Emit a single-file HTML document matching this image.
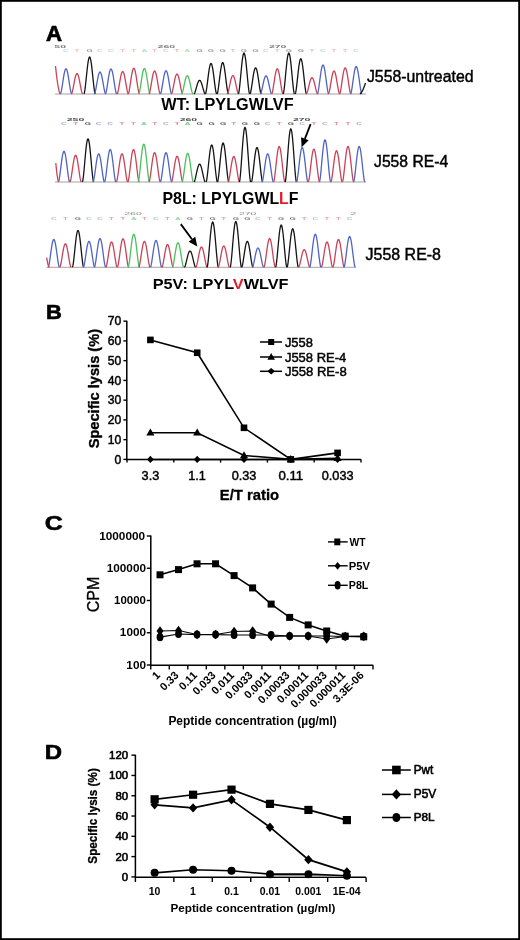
<!DOCTYPE html>
<html><head><meta charset="utf-8"><title>Figure</title>
<style>
html,body{margin:0;padding:0;background:#fff;}
body{width:520px;height:940px;overflow:hidden;}
svg{display:block;font-family:'Liberation Sans', Arial, Helvetica, sans-serif;}
</style></head><body>
<svg width="520" height="940" viewBox="0 0 520 940">
<rect x="0" y="0" width="520" height="940" fill="#fff"/>
<rect x="0.9" y="0.9" width="518.2" height="938.2" fill="none" stroke="#000" stroke-width="1.8"/>
<line x1="55" y1="94" x2="366" y2="94" stroke="#8a8a8a" stroke-width="0.8"/>
<path d="M60.40,94.00 L60.87,93.03 L61.33,91.10 L61.80,88.58 L62.27,85.69 L62.73,82.61 L63.20,79.53 L63.67,76.60 L64.13,73.98 L64.60,71.80 L65.07,70.16 L65.53,69.14 L66.00,68.80 L66.47,69.14 L66.93,70.16 L67.40,71.80 L67.87,73.98 L68.33,76.60 L68.80,79.53 L69.27,82.61 L69.73,85.69 L70.20,88.58 L70.67,91.10 L71.13,93.03 L71.60,94.00" fill="none" stroke="#5064c4" stroke-width="1.3" stroke-linejoin="round"/>
<path d="M71.40,94.00 L71.87,93.22 L72.33,91.65 L72.80,89.61 L73.27,87.27 L73.73,84.78 L74.20,82.28 L74.67,79.91 L75.13,77.79 L75.60,76.03 L76.07,74.70 L76.53,73.88 L77.00,73.60 L77.47,73.88 L77.93,74.70 L78.40,76.03 L78.87,77.79 L79.33,79.91 L79.80,82.28 L80.27,84.78 L80.73,87.27 L81.20,89.61 L81.67,91.65 L82.13,93.22 L82.60,94.00" fill="none" stroke="#cc4258" stroke-width="1.3" stroke-linejoin="round"/>
<path d="M84.00,94.00 L84.47,92.58 L84.93,89.74 L85.40,86.04 L85.87,81.79 L86.33,77.28 L86.80,72.75 L87.27,68.45 L87.73,64.61 L88.20,61.40 L88.67,59.00 L89.13,57.51 L89.60,57.00 L90.07,57.51 L90.53,59.00 L91.00,61.40 L91.47,64.61 L91.93,68.45 L92.40,72.75 L92.87,77.28 L93.33,81.79 L93.80,86.04 L94.27,89.74 L94.73,92.58 L95.20,94.00" fill="none" stroke="#151515" stroke-width="1.3" stroke-linejoin="round"/>
<path d="M94.40,94.00 L94.87,93.15 L95.33,91.47 L95.80,89.27 L96.27,86.74 L96.73,84.06 L97.20,81.36 L97.67,78.81 L98.13,76.52 L98.60,74.62 L99.07,73.19 L99.53,72.30 L100.00,72.00 L100.47,72.30 L100.93,73.19 L101.40,74.62 L101.87,76.52 L102.33,78.81 L102.80,81.36 L103.27,84.06 L103.73,86.74 L104.20,89.27 L104.67,91.47 L105.13,93.15 L105.60,94.00" fill="none" stroke="#5064c4" stroke-width="1.3" stroke-linejoin="round"/>
<path d="M105.40,94.00 L105.87,93.04 L106.33,91.12 L106.80,88.62 L107.27,85.75 L107.73,82.70 L108.20,79.64 L108.67,76.74 L109.13,74.14 L109.60,71.97 L110.07,70.35 L110.53,69.34 L111.00,69.00 L111.47,69.34 L111.93,70.35 L112.40,71.97 L112.87,74.14 L113.33,76.74 L113.80,79.64 L114.27,82.70 L114.73,85.75 L115.20,88.62 L115.67,91.12 L116.13,93.04 L116.60,94.00" fill="none" stroke="#5064c4" stroke-width="1.3" stroke-linejoin="round"/>
<path d="M117.10,94.00 L117.57,93.14 L118.03,91.42 L118.50,89.18 L118.97,86.61 L119.43,83.88 L119.90,81.13 L120.37,78.53 L120.83,76.21 L121.30,74.27 L121.77,72.81 L122.23,71.91 L122.70,71.60 L123.17,71.91 L123.63,72.81 L124.10,74.27 L124.57,76.21 L125.03,78.53 L125.50,81.13 L125.97,83.88 L126.43,86.61 L126.90,89.18 L127.37,91.42 L127.83,93.14 L128.30,94.00" fill="none" stroke="#cc4258" stroke-width="1.3" stroke-linejoin="round"/>
<path d="M128.20,94.00 L128.67,93.01 L129.13,91.03 L129.60,88.45 L130.07,85.49 L130.53,82.34 L131.00,79.18 L131.47,76.19 L131.93,73.50 L132.40,71.27 L132.87,69.59 L133.33,68.55 L133.80,68.20 L134.27,68.55 L134.73,69.59 L135.20,71.27 L135.67,73.50 L136.13,76.19 L136.60,79.18 L137.07,82.34 L137.53,85.49 L138.00,88.45 L138.47,91.03 L138.93,93.01 L139.40,94.00" fill="none" stroke="#cc4258" stroke-width="1.3" stroke-linejoin="round"/>
<path d="M138.80,94.00 L139.27,93.02 L139.73,91.06 L140.20,88.49 L140.67,85.56 L141.13,82.43 L141.60,79.30 L142.07,76.32 L142.53,73.66 L143.00,71.45 L143.47,69.78 L143.93,68.75 L144.40,68.40 L144.87,68.75 L145.33,69.78 L145.80,71.45 L146.27,73.66 L146.73,76.32 L147.20,79.30 L147.67,82.43 L148.13,85.56 L148.60,88.49 L149.07,91.06 L149.53,93.02 L150.00,94.00" fill="none" stroke="#4cc05c" stroke-width="1.3" stroke-linejoin="round"/>
<path d="M149.00,94.00 L149.47,93.12 L149.93,91.35 L150.40,89.05 L150.87,86.41 L151.33,83.60 L151.80,80.79 L152.27,78.12 L152.73,75.73 L153.20,73.74 L153.67,72.24 L154.13,71.31 L154.60,71.00 L155.07,71.31 L155.53,72.24 L156.00,73.74 L156.47,75.73 L156.93,78.12 L157.40,80.79 L157.87,83.60 L158.33,86.41 L158.80,89.05 L159.27,91.35 L159.73,93.12 L160.20,94.00" fill="none" stroke="#cc4258" stroke-width="1.3" stroke-linejoin="round"/>
<path d="M160.40,94.00 L160.87,93.10 L161.33,91.32 L161.80,88.99 L162.27,86.31 L162.73,83.47 L163.20,80.62 L163.67,77.91 L164.13,75.49 L164.60,73.47 L165.07,71.96 L165.53,71.02 L166.00,70.70 L166.47,71.02 L166.93,71.96 L167.40,73.47 L167.87,75.49 L168.33,77.91 L168.80,80.62 L169.27,83.47 L169.73,86.31 L170.20,88.99 L170.67,91.32 L171.13,93.10 L171.60,94.00" fill="none" stroke="#5064c4" stroke-width="1.3" stroke-linejoin="round"/>
<path d="M171.40,94.00 L171.87,93.23 L172.33,91.70 L172.80,89.70 L173.27,87.40 L173.73,84.96 L174.20,82.51 L174.67,80.19 L175.13,78.11 L175.60,76.38 L176.07,75.08 L176.53,74.27 L177.00,74.00 L177.47,74.27 L177.93,75.08 L178.40,76.38 L178.87,78.11 L179.33,80.19 L179.80,82.51 L180.27,84.96 L180.73,87.40 L181.20,89.70 L181.67,91.70 L182.13,93.23 L182.60,94.00" fill="none" stroke="#cc4258" stroke-width="1.3" stroke-linejoin="round"/>
<path d="M181.70,94.00 L182.17,93.30 L182.63,91.90 L183.10,90.06 L183.57,87.96 L184.03,85.73 L184.50,83.49 L184.97,81.36 L185.43,79.46 L185.90,77.88 L186.37,76.69 L186.83,75.95 L187.30,75.70 L187.77,75.95 L188.23,76.69 L188.70,77.88 L189.17,79.46 L189.63,81.36 L190.10,83.49 L190.57,85.73 L191.03,87.96 L191.50,90.06 L191.97,91.90 L192.43,93.30 L192.90,94.00" fill="none" stroke="#4cc05c" stroke-width="1.3" stroke-linejoin="round"/>
<path d="M194.00,94.00 L194.47,93.47 L194.93,92.42 L195.40,91.05 L195.87,89.48 L196.33,87.81 L196.80,86.13 L197.27,84.54 L197.73,83.12 L198.20,81.93 L198.67,81.04 L199.13,80.49 L199.60,80.30 L200.07,80.49 L200.53,81.04 L201.00,81.93 L201.47,83.12 L201.93,84.54 L202.40,86.13 L202.87,87.81 L203.33,89.48 L203.80,91.05 L204.27,92.42 L204.73,93.47 L205.20,94.00" fill="none" stroke="#151515" stroke-width="1.3" stroke-linejoin="round"/>
<path d="M205.40,94.00 L205.87,92.82 L206.33,90.48 L206.80,87.42 L207.27,83.91 L207.73,80.17 L208.20,76.42 L208.67,72.87 L209.13,69.69 L209.60,67.04 L210.07,65.05 L210.53,63.82 L211.00,63.40 L211.47,63.82 L211.93,65.05 L212.40,67.04 L212.87,69.69 L213.33,72.87 L213.80,76.42 L214.27,80.17 L214.73,83.91 L215.20,87.42 L215.67,90.48 L216.13,92.82 L216.60,94.00" fill="none" stroke="#151515" stroke-width="1.3" stroke-linejoin="round"/>
<path d="M217.10,94.00 L217.57,92.79 L218.03,90.39 L218.50,87.25 L218.97,83.64 L219.43,79.81 L219.90,75.97 L220.37,72.32 L220.83,69.06 L221.30,66.34 L221.77,64.29 L222.23,63.03 L222.70,62.60 L223.17,63.03 L223.63,64.29 L224.10,66.34 L224.57,69.06 L225.03,72.32 L225.50,75.97 L225.97,79.81 L226.43,83.64 L226.90,87.25 L227.37,90.39 L227.83,92.79 L228.30,94.00" fill="none" stroke="#151515" stroke-width="1.3" stroke-linejoin="round"/>
<path d="M227.30,94.00 L227.77,93.29 L228.23,91.87 L228.70,90.02 L229.17,87.90 L229.63,85.64 L230.10,83.37 L230.57,81.23 L231.03,79.30 L231.50,77.70 L231.97,76.50 L232.43,75.75 L232.90,75.50 L233.37,75.75 L233.83,76.50 L234.30,77.70 L234.77,79.30 L235.23,81.23 L235.70,83.37 L236.17,85.64 L236.63,87.90 L237.10,90.02 L237.57,91.87 L238.03,93.29 L238.50,94.00" fill="none" stroke="#cc4258" stroke-width="1.3" stroke-linejoin="round"/>
<path d="M238.40,94.00 L238.87,92.42 L239.33,89.28 L239.80,85.18 L240.27,80.48 L240.73,75.47 L241.20,70.45 L241.67,65.69 L242.13,61.43 L242.60,57.88 L243.07,55.21 L243.53,53.56 L244.00,53.00 L244.47,53.56 L244.93,55.21 L245.40,57.88 L245.87,61.43 L246.33,65.69 L246.80,70.45 L247.27,75.47 L247.73,80.48 L248.20,85.18 L248.67,89.28 L249.13,92.42 L249.60,94.00" fill="none" stroke="#151515" stroke-width="1.3" stroke-linejoin="round"/>
<path d="M250.00,94.00 L250.47,92.99 L250.93,90.99 L251.40,88.37 L251.87,85.36 L252.33,82.16 L252.80,78.95 L253.27,75.91 L253.73,73.19 L254.20,70.92 L254.67,69.21 L255.13,68.16 L255.60,67.80 L256.07,68.16 L256.53,69.21 L257.00,70.92 L257.47,73.19 L257.93,75.91 L258.40,78.95 L258.87,82.16 L259.33,85.36 L259.80,88.37 L260.27,90.99 L260.73,92.99 L261.20,94.00" fill="none" stroke="#151515" stroke-width="1.3" stroke-linejoin="round"/>
<path d="M260.40,94.00 L260.87,93.30 L261.33,91.92 L261.80,90.11 L262.27,88.03 L262.73,85.82 L263.20,83.60 L263.67,81.50 L264.13,79.62 L264.60,78.05 L265.07,76.88 L265.53,76.15 L266.00,75.90 L266.47,76.15 L266.93,76.88 L267.40,78.05 L267.87,79.62 L268.33,81.50 L268.80,83.60 L269.27,85.82 L269.73,88.03 L270.20,90.11 L270.67,91.92 L271.13,93.30 L271.60,94.00" fill="none" stroke="#5064c4" stroke-width="1.3" stroke-linejoin="round"/>
<path d="M271.70,94.00 L272.17,93.03 L272.63,91.10 L273.10,88.58 L273.57,85.69 L274.03,82.61 L274.50,79.53 L274.97,76.60 L275.43,73.98 L275.90,71.80 L276.37,70.16 L276.83,69.14 L277.30,68.80 L277.77,69.14 L278.23,70.16 L278.70,71.80 L279.17,73.98 L279.63,76.60 L280.10,79.53 L280.57,82.61 L281.03,85.69 L281.50,88.58 L281.97,91.10 L282.43,93.03 L282.90,94.00" fill="none" stroke="#cc4258" stroke-width="1.3" stroke-linejoin="round"/>
<path d="M283.20,94.00 L283.67,92.42 L284.13,89.28 L284.60,85.18 L285.07,80.48 L285.53,75.47 L286.00,70.45 L286.47,65.69 L286.93,61.43 L287.40,57.88 L287.87,55.21 L288.33,53.56 L288.80,53.00 L289.27,53.56 L289.73,55.21 L290.20,57.88 L290.67,61.43 L291.13,65.69 L291.60,70.45 L292.07,75.47 L292.53,80.48 L293.00,85.18 L293.47,89.28 L293.93,92.42 L294.40,94.00" fill="none" stroke="#151515" stroke-width="1.3" stroke-linejoin="round"/>
<path d="M295.20,94.00 L295.67,92.65 L296.13,89.95 L296.60,86.43 L297.07,82.39 L297.53,78.09 L298.00,73.78 L298.47,69.70 L298.93,66.04 L299.40,62.99 L299.87,60.70 L300.33,59.28 L300.80,58.80 L301.27,59.28 L301.73,60.70 L302.20,62.99 L302.67,66.04 L303.13,69.70 L303.60,73.78 L304.07,78.09 L304.53,82.39 L305.00,86.43 L305.47,89.95 L305.93,92.65 L306.40,94.00" fill="none" stroke="#151515" stroke-width="1.3" stroke-linejoin="round"/>
<path d="M306.40,94.00 L306.87,93.37 L307.33,92.13 L307.80,90.49 L308.27,88.62 L308.73,86.63 L309.20,84.64 L309.67,82.75 L310.13,81.05 L310.60,79.64 L311.07,78.58 L311.53,77.92 L312.00,77.70 L312.47,77.92 L312.93,78.58 L313.40,79.64 L313.87,81.05 L314.33,82.75 L314.80,84.64 L315.27,86.63 L315.73,88.62 L316.20,90.49 L316.67,92.13 L317.13,93.37 L317.60,94.00" fill="none" stroke="#cc4258" stroke-width="1.3" stroke-linejoin="round"/>
<path d="M317.40,94.00 L317.87,92.88 L318.33,90.66 L318.80,87.76 L319.27,84.43 L319.73,80.89 L320.20,77.34 L320.67,73.98 L321.13,70.96 L321.60,68.45 L322.07,66.56 L322.53,65.40 L323.00,65.00 L323.47,65.40 L323.93,66.56 L324.40,68.45 L324.87,70.96 L325.33,73.98 L325.80,77.34 L326.27,80.89 L326.73,84.43 L327.20,87.76 L327.67,90.66 L328.13,92.88 L328.60,94.00" fill="none" stroke="#5064c4" stroke-width="1.3" stroke-linejoin="round"/>
<path d="M328.40,94.00 L328.87,93.12 L329.33,91.35 L329.80,89.05 L330.27,86.41 L330.73,83.60 L331.20,80.79 L331.67,78.12 L332.13,75.73 L332.60,73.74 L333.07,72.24 L333.53,71.31 L334.00,71.00 L334.47,71.31 L334.93,72.24 L335.40,73.74 L335.87,75.73 L336.33,78.12 L336.80,80.79 L337.27,83.60 L337.73,86.41 L338.20,89.05 L338.67,91.35 L339.13,93.12 L339.60,94.00" fill="none" stroke="#cc4258" stroke-width="1.3" stroke-linejoin="round"/>
<path d="M339.60,94.00 L340.07,92.99 L340.53,90.99 L341.00,88.37 L341.47,85.36 L341.93,82.16 L342.40,78.95 L342.87,75.91 L343.33,73.19 L343.80,70.92 L344.27,69.21 L344.73,68.16 L345.20,67.80 L345.67,68.16 L346.13,69.21 L346.60,70.92 L347.07,73.19 L347.53,75.91 L348.00,78.95 L348.47,82.16 L348.93,85.36 L349.40,88.37 L349.87,90.99 L350.33,92.99 L350.80,94.00" fill="none" stroke="#cc4258" stroke-width="1.3" stroke-linejoin="round"/>
<path d="M350.60,94.00 L351.07,92.94 L351.53,90.84 L352.00,88.09 L352.47,84.93 L352.93,81.57 L353.40,78.21 L353.87,75.01 L354.33,72.15 L354.80,69.77 L355.27,67.98 L355.73,66.88 L356.20,66.50 L356.67,66.88 L357.13,67.98 L357.60,69.77 L358.07,72.15 L358.53,75.01 L359.00,78.21 L359.47,81.57 L359.93,84.93 L360.40,88.09 L360.87,90.84 L361.33,92.94 L361.80,94.00" fill="none" stroke="#5064c4" stroke-width="1.3" stroke-linejoin="round"/>
<path d="M55.50,66.00 Q57.75,88.40 60.00,94" fill="none" stroke="#cc4258" stroke-width="1.3"/>
<path d="M360.00,94 Q362.75,91.80 365.50,83.00" fill="none" stroke="#151515" stroke-width="1.3"/>
<text transform="translate(66.00 52.00) scale(1.75 0.72)" font-size="4.6" text-anchor="middle" fill="#98a4dc" font-weight="bold" opacity="0.6">C</text>
<text transform="translate(77.00 52.00) scale(1.75 0.72)" font-size="4.6" text-anchor="middle" fill="#e48a9a" font-weight="bold" opacity="0.6">T</text>
<text transform="translate(89.60 52.00) scale(1.75 0.72)" font-size="4.6" text-anchor="middle" fill="#555555" font-weight="bold" opacity="0.6">G</text>
<text transform="translate(100.00 52.00) scale(1.75 0.72)" font-size="4.6" text-anchor="middle" fill="#98a4dc" font-weight="bold" opacity="0.6">C</text>
<text transform="translate(111.00 52.00) scale(1.75 0.72)" font-size="4.6" text-anchor="middle" fill="#98a4dc" font-weight="bold" opacity="0.6">C</text>
<text transform="translate(122.70 52.00) scale(1.75 0.72)" font-size="4.6" text-anchor="middle" fill="#e48a9a" font-weight="bold" opacity="0.6">T</text>
<text transform="translate(133.80 52.00) scale(1.75 0.72)" font-size="4.6" text-anchor="middle" fill="#e48a9a" font-weight="bold" opacity="0.6">T</text>
<text transform="translate(144.40 52.00) scale(1.75 0.72)" font-size="4.6" text-anchor="middle" fill="#7fd08c" font-weight="bold" opacity="0.6">A</text>
<text transform="translate(154.60 52.00) scale(1.75 0.72)" font-size="4.6" text-anchor="middle" fill="#e48a9a" font-weight="bold" opacity="0.6">T</text>
<text transform="translate(166.00 52.00) scale(1.75 0.72)" font-size="4.6" text-anchor="middle" fill="#98a4dc" font-weight="bold" opacity="0.6">C</text>
<text transform="translate(177.00 52.00) scale(1.75 0.72)" font-size="4.6" text-anchor="middle" fill="#e48a9a" font-weight="bold" opacity="0.6">T</text>
<text transform="translate(187.30 52.00) scale(1.75 0.72)" font-size="4.6" text-anchor="middle" fill="#7fd08c" font-weight="bold" opacity="0.6">A</text>
<text transform="translate(199.60 52.00) scale(1.75 0.72)" font-size="4.6" text-anchor="middle" fill="#555555" font-weight="bold" opacity="0.6">G</text>
<text transform="translate(211.00 52.00) scale(1.75 0.72)" font-size="4.6" text-anchor="middle" fill="#555555" font-weight="bold" opacity="0.6">G</text>
<text transform="translate(222.70 52.00) scale(1.75 0.72)" font-size="4.6" text-anchor="middle" fill="#555555" font-weight="bold" opacity="0.6">G</text>
<text transform="translate(232.90 52.00) scale(1.75 0.72)" font-size="4.6" text-anchor="middle" fill="#e48a9a" font-weight="bold" opacity="0.6">T</text>
<text transform="translate(244.00 52.00) scale(1.75 0.72)" font-size="4.6" text-anchor="middle" fill="#555555" font-weight="bold" opacity="0.6">G</text>
<text transform="translate(255.60 52.00) scale(1.75 0.72)" font-size="4.6" text-anchor="middle" fill="#555555" font-weight="bold" opacity="0.6">G</text>
<text transform="translate(266.00 52.00) scale(1.75 0.72)" font-size="4.6" text-anchor="middle" fill="#98a4dc" font-weight="bold" opacity="0.6">C</text>
<text transform="translate(277.30 52.00) scale(1.75 0.72)" font-size="4.6" text-anchor="middle" fill="#e48a9a" font-weight="bold" opacity="0.6">T</text>
<text transform="translate(288.80 52.00) scale(1.75 0.72)" font-size="4.6" text-anchor="middle" fill="#555555" font-weight="bold" opacity="0.6">G</text>
<text transform="translate(300.80 52.00) scale(1.75 0.72)" font-size="4.6" text-anchor="middle" fill="#555555" font-weight="bold" opacity="0.6">G</text>
<text transform="translate(312.00 52.00) scale(1.75 0.72)" font-size="4.6" text-anchor="middle" fill="#e48a9a" font-weight="bold" opacity="0.6">T</text>
<text transform="translate(323.00 52.00) scale(1.75 0.72)" font-size="4.6" text-anchor="middle" fill="#98a4dc" font-weight="bold" opacity="0.6">C</text>
<text transform="translate(334.00 52.00) scale(1.75 0.72)" font-size="4.6" text-anchor="middle" fill="#e48a9a" font-weight="bold" opacity="0.6">T</text>
<text transform="translate(345.20 52.00) scale(1.75 0.72)" font-size="4.6" text-anchor="middle" fill="#e48a9a" font-weight="bold" opacity="0.6">T</text>
<text transform="translate(356.20 52.00) scale(1.75 0.72)" font-size="4.6" text-anchor="middle" fill="#98a4dc" font-weight="bold" opacity="0.6">C</text>
<text transform="translate(60.20 47.90) scale(2.5 0.75)" font-size="4.2" text-anchor="middle" fill="#777" font-weight="bold">50</text>
<text transform="translate(166.30 47.90) scale(2.5 0.75)" font-size="4.2" text-anchor="middle" fill="#777" font-weight="bold">260</text>
<text transform="translate(277.70 47.90) scale(2.5 0.75)" font-size="4.2" text-anchor="middle" fill="#777" font-weight="bold">270</text>
<line x1="55" y1="182" x2="366" y2="182" stroke="#8a8a8a" stroke-width="0.8"/>
<path d="M58.40,182.00 L58.87,180.82 L59.33,178.47 L59.80,175.40 L60.27,171.87 L60.73,168.12 L61.20,164.37 L61.67,160.80 L62.13,157.61 L62.60,154.95 L63.07,152.96 L63.53,151.72 L64.00,151.30 L64.47,151.72 L64.93,152.96 L65.40,154.95 L65.87,157.61 L66.33,160.80 L66.80,164.37 L67.27,168.12 L67.73,171.87 L68.20,175.40 L68.67,178.47 L69.13,180.82 L69.60,182.00" fill="none" stroke="#5064c4" stroke-width="1.3" stroke-linejoin="round"/>
<path d="M70.00,182.00 L70.47,180.97 L70.93,178.92 L71.40,176.24 L71.87,173.16 L72.33,169.89 L72.80,166.61 L73.27,163.50 L73.73,160.71 L74.20,158.39 L74.67,156.65 L75.13,155.57 L75.60,155.20 L76.07,155.57 L76.53,156.65 L77.00,158.39 L77.47,160.71 L77.93,163.50 L78.40,166.61 L78.87,169.89 L79.33,173.16 L79.80,176.24 L80.27,178.92 L80.73,180.97 L81.20,182.00" fill="none" stroke="#cc4258" stroke-width="1.3" stroke-linejoin="round"/>
<path d="M82.40,182.00 L82.87,180.34 L83.33,177.03 L83.80,172.71 L84.27,167.75 L84.73,162.47 L85.20,157.19 L85.67,152.17 L86.13,147.68 L86.60,143.94 L87.07,141.13 L87.53,139.39 L88.00,138.80 L88.47,139.39 L88.93,141.13 L89.40,143.94 L89.87,147.68 L90.33,152.17 L90.80,157.19 L91.27,162.47 L91.73,167.75 L92.20,172.71 L92.67,177.03 L93.13,180.34 L93.60,182.00" fill="none" stroke="#151515" stroke-width="1.3" stroke-linejoin="round"/>
<path d="M93.10,182.00 L93.57,180.92 L94.03,178.76 L94.50,175.94 L94.97,172.70 L95.43,169.25 L95.90,165.80 L96.37,162.53 L96.83,159.60 L97.30,157.16 L97.77,155.32 L98.23,154.19 L98.70,153.80 L99.17,154.19 L99.63,155.32 L100.10,157.16 L100.57,159.60 L101.03,162.53 L101.50,165.80 L101.97,169.25 L102.43,172.70 L102.90,175.94 L103.37,178.76 L103.83,180.92 L104.30,182.00" fill="none" stroke="#5064c4" stroke-width="1.3" stroke-linejoin="round"/>
<path d="M104.60,182.00 L105.07,180.75 L105.53,178.25 L106.00,174.99 L106.47,171.25 L106.93,167.27 L107.40,163.28 L107.87,159.49 L108.33,156.10 L108.80,153.28 L109.27,151.16 L109.73,149.85 L110.20,149.40 L110.67,149.85 L111.13,151.16 L111.60,153.28 L112.07,156.10 L112.53,159.49 L113.00,163.28 L113.47,167.27 L113.93,171.25 L114.40,174.99 L114.87,178.25 L115.33,180.75 L115.80,182.00" fill="none" stroke="#5064c4" stroke-width="1.3" stroke-linejoin="round"/>
<path d="M116.40,182.00 L116.87,180.92 L117.33,178.76 L117.80,175.94 L118.27,172.70 L118.73,169.25 L119.20,165.80 L119.67,162.53 L120.13,159.60 L120.60,157.16 L121.07,155.32 L121.53,154.19 L122.00,153.80 L122.47,154.19 L122.93,155.32 L123.40,157.16 L123.87,159.60 L124.33,162.53 L124.80,165.80 L125.27,169.25 L125.73,172.70 L126.20,175.94 L126.67,178.76 L127.13,180.92 L127.60,182.00" fill="none" stroke="#cc4258" stroke-width="1.3" stroke-linejoin="round"/>
<path d="M127.90,182.00 L128.37,180.75 L128.83,178.25 L129.30,174.99 L129.77,171.25 L130.23,167.27 L130.70,163.28 L131.17,159.49 L131.63,156.10 L132.10,153.28 L132.57,151.16 L133.03,149.85 L133.50,149.40 L133.97,149.85 L134.43,151.16 L134.90,153.28 L135.37,156.10 L135.83,159.49 L136.30,163.28 L136.77,167.27 L137.23,171.25 L137.70,174.99 L138.17,178.25 L138.63,180.75 L139.10,182.00" fill="none" stroke="#cc4258" stroke-width="1.3" stroke-linejoin="round"/>
<path d="M138.20,182.00 L138.67,180.55 L139.13,177.65 L139.60,173.87 L140.07,169.53 L140.53,164.92 L141.00,160.29 L141.47,155.90 L141.93,151.97 L142.40,148.70 L142.87,146.24 L143.33,144.72 L143.80,144.20 L144.27,144.72 L144.73,146.24 L145.20,148.70 L145.67,151.97 L146.13,155.90 L146.60,160.29 L147.07,164.92 L147.53,169.53 L148.00,173.87 L148.47,177.65 L148.93,180.55 L149.40,182.00" fill="none" stroke="#4cc05c" stroke-width="1.3" stroke-linejoin="round"/>
<path d="M149.00,182.00 L149.47,180.87 L149.93,178.63 L150.40,175.70 L150.87,172.33 L151.33,168.76 L151.80,165.17 L152.27,161.77 L152.73,158.72 L153.20,156.19 L153.67,154.28 L154.13,153.10 L154.60,152.70 L155.07,153.10 L155.53,154.28 L156.00,156.19 L156.47,158.72 L156.93,161.77 L157.40,165.17 L157.87,168.76 L158.33,172.33 L158.80,175.70 L159.27,178.63 L159.73,180.87 L160.20,182.00" fill="none" stroke="#cc4258" stroke-width="1.3" stroke-linejoin="round"/>
<path d="M160.40,182.00 L160.87,180.87 L161.33,178.63 L161.80,175.70 L162.27,172.33 L162.73,168.76 L163.20,165.17 L163.67,161.77 L164.13,158.72 L164.60,156.19 L165.07,154.28 L165.53,153.10 L166.00,152.70 L166.47,153.10 L166.93,154.28 L167.40,156.19 L167.87,158.72 L168.33,161.77 L168.80,165.17 L169.27,168.76 L169.73,172.33 L170.20,175.70 L170.67,178.63 L171.13,180.87 L171.60,182.00" fill="none" stroke="#5064c4" stroke-width="1.3" stroke-linejoin="round"/>
<path d="M171.50,182.00 L171.97,181.01 L172.43,179.03 L172.90,176.45 L173.37,173.49 L173.83,170.34 L174.30,167.18 L174.77,164.19 L175.23,161.50 L175.70,159.27 L176.17,157.59 L176.63,156.55 L177.10,156.20 L177.57,156.55 L178.03,157.59 L178.50,159.27 L178.97,161.50 L179.43,164.19 L179.90,167.18 L180.37,170.34 L180.83,173.49 L181.30,176.45 L181.77,179.03 L182.23,181.01 L182.70,182.00" fill="none" stroke="#cc4258" stroke-width="1.3" stroke-linejoin="round"/>
<path d="M182.10,182.00 L182.57,180.90 L183.03,178.70 L183.50,175.83 L183.97,172.53 L184.43,169.03 L184.90,165.52 L185.37,162.18 L185.83,159.20 L186.30,156.71 L186.77,154.85 L187.23,153.69 L187.70,153.30 L188.17,153.69 L188.63,154.85 L189.10,156.71 L189.57,159.20 L190.03,162.18 L190.50,165.52 L190.97,169.03 L191.43,172.53 L191.90,175.83 L192.37,178.70 L192.83,180.90 L193.30,182.00" fill="none" stroke="#4cc05c" stroke-width="1.3" stroke-linejoin="round"/>
<path d="M194.00,182.00 L194.47,181.32 L194.93,179.95 L195.40,178.17 L195.87,176.13 L196.33,173.95 L196.80,171.78 L197.27,169.71 L197.73,167.86 L198.20,166.32 L198.67,165.16 L199.13,164.44 L199.60,164.20 L200.07,164.44 L200.53,165.16 L201.00,166.32 L201.47,167.86 L201.93,169.71 L202.40,171.78 L202.87,173.95 L203.33,176.13 L203.80,178.17 L204.27,179.95 L204.73,181.32 L205.20,182.00" fill="none" stroke="#151515" stroke-width="1.3" stroke-linejoin="round"/>
<path d="M206.10,182.00 L206.57,180.58 L207.03,177.74 L207.50,174.04 L207.97,169.79 L208.43,165.28 L208.90,160.75 L209.37,156.45 L209.83,152.61 L210.30,149.40 L210.77,147.00 L211.23,145.51 L211.70,145.00 L212.17,145.51 L212.63,147.00 L213.10,149.40 L213.57,152.61 L214.03,156.45 L214.50,160.75 L214.97,165.28 L215.43,169.79 L215.90,174.04 L216.37,177.74 L216.83,180.58 L217.30,182.00" fill="none" stroke="#151515" stroke-width="1.3" stroke-linejoin="round"/>
<path d="M217.50,182.00 L217.97,180.50 L218.43,177.51 L218.90,173.61 L219.37,169.13 L219.83,164.37 L220.30,159.60 L220.77,155.07 L221.23,151.02 L221.70,147.64 L222.17,145.10 L222.63,143.53 L223.10,143.00 L223.57,143.53 L224.03,145.10 L224.50,147.64 L224.97,151.02 L225.43,155.07 L225.90,159.60 L226.37,164.37 L226.83,169.13 L227.30,173.61 L227.77,177.51 L228.23,180.50 L228.70,182.00" fill="none" stroke="#151515" stroke-width="1.3" stroke-linejoin="round"/>
<path d="M228.20,182.00 L228.67,181.02 L229.13,179.07 L229.60,176.52 L230.07,173.59 L230.53,170.47 L231.00,167.35 L231.47,164.39 L231.93,161.74 L232.40,159.53 L232.87,157.88 L233.33,156.85 L233.80,156.50 L234.27,156.85 L234.73,157.88 L235.20,159.53 L235.67,161.74 L236.13,164.39 L236.60,167.35 L237.07,170.47 L237.53,173.59 L238.00,176.52 L238.47,179.07 L238.93,181.02 L239.40,182.00" fill="none" stroke="#cc4258" stroke-width="1.3" stroke-linejoin="round"/>
<path d="M239.40,182.00 L239.87,179.90 L240.33,175.71 L240.80,170.24 L241.27,163.96 L241.73,157.28 L242.20,150.58 L242.67,144.23 L243.13,138.55 L243.60,133.81 L244.07,130.25 L244.53,128.05 L245.00,127.30 L245.47,128.05 L245.93,130.25 L246.40,133.81 L246.87,138.55 L247.33,144.23 L247.80,150.58 L248.27,157.28 L248.73,163.96 L249.20,170.24 L249.67,175.71 L250.13,179.90 L250.60,182.00" fill="none" stroke="#151515" stroke-width="1.3" stroke-linejoin="round"/>
<path d="M251.40,182.00 L251.87,180.67 L252.33,178.03 L252.80,174.58 L253.27,170.62 L253.73,166.41 L254.20,162.18 L254.67,158.18 L255.13,154.59 L255.60,151.60 L256.07,149.36 L256.53,147.97 L257.00,147.50 L257.47,147.97 L257.93,149.36 L258.40,151.60 L258.87,154.59 L259.33,158.18 L259.80,162.18 L260.27,166.41 L260.73,170.62 L261.20,174.58 L261.67,178.03 L262.13,180.67 L262.60,182.00" fill="none" stroke="#151515" stroke-width="1.3" stroke-linejoin="round"/>
<path d="M262.10,182.00 L262.57,180.92 L263.03,178.76 L263.50,175.94 L263.97,172.70 L264.43,169.25 L264.90,165.80 L265.37,162.53 L265.83,159.60 L266.30,157.16 L266.77,155.32 L267.23,154.19 L267.70,153.80 L268.17,154.19 L268.63,155.32 L269.10,157.16 L269.57,159.60 L270.03,162.53 L270.50,165.80 L270.97,169.25 L271.43,172.70 L271.90,175.94 L272.37,178.76 L272.83,180.92 L273.30,182.00" fill="none" stroke="#5064c4" stroke-width="1.3" stroke-linejoin="round"/>
<path d="M273.60,182.00 L274.07,180.63 L274.53,177.92 L275.00,174.37 L275.47,170.29 L275.93,165.95 L276.40,161.61 L276.87,157.49 L277.33,153.80 L277.80,150.72 L278.27,148.42 L278.73,146.98 L279.20,146.50 L279.67,146.98 L280.13,148.42 L280.60,150.72 L281.07,153.80 L281.53,157.49 L282.00,161.61 L282.47,165.95 L282.93,170.29 L283.40,174.37 L283.87,177.92 L284.33,180.63 L284.80,182.00" fill="none" stroke="#cc4258" stroke-width="1.3" stroke-linejoin="round"/>
<path d="M285.20,182.00 L285.67,179.95 L286.13,175.88 L286.60,170.56 L287.07,164.45 L287.53,157.95 L288.00,151.44 L288.47,145.27 L288.93,139.74 L289.40,135.13 L289.87,131.67 L290.33,129.53 L290.80,128.80 L291.27,129.53 L291.73,131.67 L292.20,135.13 L292.67,139.74 L293.13,145.27 L293.60,151.44 L294.07,157.95 L294.53,164.45 L295.00,170.56 L295.47,175.88 L295.93,179.95 L296.40,182.00" fill="none" stroke="#151515" stroke-width="1.3" stroke-linejoin="round"/>
<path d="M296.60,182.00 L297.07,180.67 L297.53,178.03 L298.00,174.58 L298.47,170.62 L298.93,166.41 L299.40,162.18 L299.87,158.18 L300.33,154.59 L300.80,151.60 L301.27,149.36 L301.73,147.97 L302.20,147.50 L302.67,147.97 L303.13,149.36 L303.60,151.60 L304.07,154.59 L304.53,158.18 L305.00,162.18 L305.47,166.41 L305.93,170.62 L306.40,174.58 L306.87,178.03 L307.33,180.67 L307.80,182.00" fill="none" stroke="#5064c4" stroke-width="1.3" stroke-linejoin="round"/>
<path d="M308.30,182.00 L308.77,180.73 L309.23,178.22 L309.70,174.92 L310.17,171.15 L310.63,167.13 L311.10,163.10 L311.57,159.28 L312.03,155.86 L312.50,153.01 L312.97,150.88 L313.43,149.55 L313.90,149.10 L314.37,149.55 L314.83,150.88 L315.30,153.01 L315.77,155.86 L316.23,159.28 L316.70,163.10 L317.17,167.13 L317.63,171.15 L318.10,174.92 L318.57,178.22 L319.03,180.73 L319.50,182.00" fill="none" stroke="#cc4258" stroke-width="1.3" stroke-linejoin="round"/>
<path d="M319.40,182.00 L319.87,180.38 L320.33,177.15 L320.80,172.92 L321.27,168.08 L321.73,162.93 L322.20,157.76 L322.67,152.86 L323.13,148.48 L323.60,144.82 L324.07,142.08 L324.53,140.38 L325.00,139.80 L325.47,140.38 L325.93,142.08 L326.40,144.82 L326.87,148.48 L327.33,152.86 L327.80,157.76 L328.27,162.93 L328.73,168.08 L329.20,172.92 L329.67,177.15 L330.13,180.38 L330.60,182.00" fill="none" stroke="#5064c4" stroke-width="1.3" stroke-linejoin="round"/>
<path d="M330.90,182.00 L331.37,180.80 L331.83,178.41 L332.30,175.29 L332.77,171.71 L333.23,167.90 L333.70,164.08 L334.17,160.46 L334.63,157.21 L335.10,154.51 L335.57,152.48 L336.03,151.23 L336.50,150.80 L336.97,151.23 L337.43,152.48 L337.90,154.51 L338.37,157.21 L338.83,160.46 L339.30,164.08 L339.77,167.90 L340.23,171.71 L340.70,175.29 L341.17,178.41 L341.63,180.80 L342.10,182.00" fill="none" stroke="#cc4258" stroke-width="1.3" stroke-linejoin="round"/>
<path d="M342.40,182.00 L342.87,180.63 L343.33,177.92 L343.80,174.37 L344.27,170.29 L344.73,165.95 L345.20,161.61 L345.67,157.49 L346.13,153.80 L346.60,150.72 L347.07,148.42 L347.53,146.98 L348.00,146.50 L348.47,146.98 L348.93,148.42 L349.40,150.72 L349.87,153.80 L350.33,157.49 L350.80,161.61 L351.27,165.95 L351.73,170.29 L352.20,174.37 L352.67,177.92 L353.13,180.63 L353.60,182.00" fill="none" stroke="#cc4258" stroke-width="1.3" stroke-linejoin="round"/>
<path d="M353.60,182.00 L354.07,180.63 L354.53,177.92 L355.00,174.37 L355.47,170.29 L355.93,165.95 L356.40,161.61 L356.87,157.49 L357.33,153.80 L357.80,150.72 L358.27,148.42 L358.73,146.98 L359.20,146.50 L359.67,146.98 L360.13,148.42 L360.60,150.72 L361.07,153.80 L361.53,157.49 L362.00,161.61 L362.47,165.95 L362.93,170.29 L363.40,174.37 L363.87,177.92 L364.33,180.63 L364.80,182.00" fill="none" stroke="#5064c4" stroke-width="1.3" stroke-linejoin="round"/>
<path d="M55.80,163.00 Q57.15,178.20 58.50,182" fill="none" stroke="#cc4258" stroke-width="1.3"/>
<text transform="translate(64.00 125.40) scale(1.75 0.72)" font-size="4.6" text-anchor="middle" fill="#98a4dc" font-weight="bold" opacity="1.0">C</text>
<text transform="translate(75.60 125.40) scale(1.75 0.72)" font-size="4.6" text-anchor="middle" fill="#e48a9a" font-weight="bold" opacity="1.0">T</text>
<text transform="translate(88.00 125.40) scale(1.75 0.72)" font-size="4.6" text-anchor="middle" fill="#555555" font-weight="bold" opacity="1.0">G</text>
<text transform="translate(98.70 125.40) scale(1.75 0.72)" font-size="4.6" text-anchor="middle" fill="#98a4dc" font-weight="bold" opacity="1.0">C</text>
<text transform="translate(110.20 125.40) scale(1.75 0.72)" font-size="4.6" text-anchor="middle" fill="#98a4dc" font-weight="bold" opacity="1.0">C</text>
<text transform="translate(122.00 125.40) scale(1.75 0.72)" font-size="4.6" text-anchor="middle" fill="#e48a9a" font-weight="bold" opacity="1.0">T</text>
<text transform="translate(133.50 125.40) scale(1.75 0.72)" font-size="4.6" text-anchor="middle" fill="#e48a9a" font-weight="bold" opacity="1.0">T</text>
<text transform="translate(143.80 125.40) scale(1.75 0.72)" font-size="4.6" text-anchor="middle" fill="#7fd08c" font-weight="bold" opacity="1.0">A</text>
<text transform="translate(154.60 125.40) scale(1.75 0.72)" font-size="4.6" text-anchor="middle" fill="#e48a9a" font-weight="bold" opacity="1.0">T</text>
<text transform="translate(166.00 125.40) scale(1.75 0.72)" font-size="4.6" text-anchor="middle" fill="#98a4dc" font-weight="bold" opacity="1.0">C</text>
<text transform="translate(177.10 125.40) scale(1.75 0.72)" font-size="4.6" text-anchor="middle" fill="#e48a9a" font-weight="bold" opacity="1.0">T</text>
<text transform="translate(187.70 125.40) scale(1.75 0.72)" font-size="4.6" text-anchor="middle" fill="#7fd08c" font-weight="bold" opacity="1.0">A</text>
<text transform="translate(199.60 125.40) scale(1.75 0.72)" font-size="4.6" text-anchor="middle" fill="#555555" font-weight="bold" opacity="1.0">G</text>
<text transform="translate(211.70 125.40) scale(1.75 0.72)" font-size="4.6" text-anchor="middle" fill="#555555" font-weight="bold" opacity="1.0">G</text>
<text transform="translate(223.10 125.40) scale(1.75 0.72)" font-size="4.6" text-anchor="middle" fill="#555555" font-weight="bold" opacity="1.0">G</text>
<text transform="translate(233.80 125.40) scale(1.75 0.72)" font-size="4.6" text-anchor="middle" fill="#e48a9a" font-weight="bold" opacity="1.0">T</text>
<text transform="translate(245.00 125.40) scale(1.75 0.72)" font-size="4.6" text-anchor="middle" fill="#555555" font-weight="bold" opacity="1.0">G</text>
<text transform="translate(257.00 125.40) scale(1.75 0.72)" font-size="4.6" text-anchor="middle" fill="#555555" font-weight="bold" opacity="1.0">G</text>
<text transform="translate(267.70 125.40) scale(1.75 0.72)" font-size="4.6" text-anchor="middle" fill="#98a4dc" font-weight="bold" opacity="1.0">C</text>
<text transform="translate(279.20 125.40) scale(1.75 0.72)" font-size="4.6" text-anchor="middle" fill="#e48a9a" font-weight="bold" opacity="1.0">T</text>
<text transform="translate(290.80 125.40) scale(1.75 0.72)" font-size="4.6" text-anchor="middle" fill="#555555" font-weight="bold" opacity="1.0">G</text>
<text transform="translate(302.20 125.40) scale(1.75 0.72)" font-size="4.6" text-anchor="middle" fill="#98a4dc" font-weight="bold" opacity="1.0">C</text>
<text transform="translate(313.90 125.40) scale(1.75 0.72)" font-size="4.6" text-anchor="middle" fill="#e48a9a" font-weight="bold" opacity="1.0">T</text>
<text transform="translate(325.00 125.40) scale(1.75 0.72)" font-size="4.6" text-anchor="middle" fill="#98a4dc" font-weight="bold" opacity="1.0">C</text>
<text transform="translate(336.50 125.40) scale(1.75 0.72)" font-size="4.6" text-anchor="middle" fill="#e48a9a" font-weight="bold" opacity="1.0">T</text>
<text transform="translate(348.00 125.40) scale(1.75 0.72)" font-size="4.6" text-anchor="middle" fill="#e48a9a" font-weight="bold" opacity="1.0">T</text>
<text transform="translate(359.20 125.40) scale(1.75 0.72)" font-size="4.6" text-anchor="middle" fill="#98a4dc" font-weight="bold" opacity="1.0">C</text>
<text transform="translate(75.50 120.80) scale(2.5 0.75)" font-size="4.2" text-anchor="middle" fill="#444" font-weight="bold">250</text>
<text transform="translate(188.40 120.80) scale(2.5 0.75)" font-size="4.2" text-anchor="middle" fill="#444" font-weight="bold">260</text>
<text transform="translate(301.70 120.80) scale(2.5 0.75)" font-size="4.2" text-anchor="middle" fill="#444" font-weight="bold">270</text>
<line x1="310.60" y1="124.10" x2="304.87" y2="138.81" stroke="#000" stroke-width="1.8"/>
<polygon points="301.60,147.20 301.05,137.33 308.69,140.30" fill="#000"/>
<line x1="46.5" y1="267.3" x2="356" y2="267.3" stroke="#8a8a8a" stroke-width="0.8"/>
<path d="M48.20,267.30 L48.67,266.23 L49.13,264.09 L49.60,261.30 L50.07,258.10 L50.53,254.69 L51.00,251.28 L51.47,248.04 L51.93,245.14 L52.40,242.72 L52.87,240.91 L53.33,239.78 L53.80,239.40 L54.27,239.78 L54.73,240.91 L55.20,242.72 L55.67,245.14 L56.13,248.04 L56.60,251.28 L57.07,254.69 L57.53,258.10 L58.00,261.30 L58.47,264.09 L58.93,266.23 L59.40,267.30" fill="none" stroke="#5064c4" stroke-width="1.3" stroke-linejoin="round"/>
<path d="M59.80,267.30 L60.27,266.40 L60.73,264.60 L61.20,262.25 L61.67,259.55 L62.13,256.68 L62.60,253.80 L63.07,251.07 L63.53,248.63 L64.00,246.60 L64.47,245.07 L64.93,244.12 L65.40,243.80 L65.87,244.12 L66.33,245.07 L66.80,246.60 L67.27,248.63 L67.73,251.07 L68.20,253.80 L68.67,256.68 L69.13,259.55 L69.60,262.25 L70.07,264.60 L70.53,266.40 L71.00,267.30" fill="none" stroke="#cc4258" stroke-width="1.3" stroke-linejoin="round"/>
<path d="M72.40,267.30 L72.87,265.88 L73.33,263.06 L73.80,259.36 L74.27,255.13 L74.73,250.62 L75.20,246.11 L75.67,241.82 L76.13,237.99 L76.60,234.79 L77.07,232.39 L77.53,230.90 L78.00,230.40 L78.47,230.90 L78.93,232.39 L79.40,234.79 L79.87,237.99 L80.33,241.82 L80.80,246.11 L81.27,250.62 L81.73,255.13 L82.20,259.36 L82.67,263.06 L83.13,265.88 L83.60,267.30" fill="none" stroke="#151515" stroke-width="1.3" stroke-linejoin="round"/>
<path d="M83.40,267.30 L83.87,266.30 L84.33,264.31 L84.80,261.71 L85.27,258.72 L85.73,255.55 L86.20,252.37 L86.67,249.35 L87.13,246.65 L87.60,244.39 L88.07,242.70 L88.53,241.65 L89.00,241.30 L89.47,241.65 L89.93,242.70 L90.40,244.39 L90.87,246.65 L91.33,249.35 L91.80,252.37 L92.27,255.55 L92.73,258.72 L93.20,261.71 L93.67,264.31 L94.13,266.30 L94.60,267.30" fill="none" stroke="#5064c4" stroke-width="1.3" stroke-linejoin="round"/>
<path d="M94.40,267.30 L94.87,266.19 L95.33,263.99 L95.80,261.11 L96.27,257.80 L96.73,254.28 L97.20,250.76 L97.67,247.41 L98.13,244.42 L98.60,241.93 L99.07,240.05 L99.53,238.89 L100.00,238.50 L100.47,238.89 L100.93,240.05 L101.40,241.93 L101.87,244.42 L102.33,247.41 L102.80,250.76 L103.27,254.28 L103.73,257.80 L104.20,261.11 L104.67,263.99 L105.13,266.19 L105.60,267.30" fill="none" stroke="#5064c4" stroke-width="1.3" stroke-linejoin="round"/>
<path d="M105.90,267.30 L106.37,266.33 L106.83,264.39 L107.30,261.86 L107.77,258.95 L108.23,255.87 L108.70,252.77 L109.17,249.83 L109.63,247.20 L110.10,245.01 L110.57,243.37 L111.03,242.35 L111.50,242.00 L111.97,242.35 L112.43,243.37 L112.90,245.01 L113.37,247.20 L113.83,249.83 L114.30,252.77 L114.77,255.87 L115.23,258.95 L115.70,261.86 L116.17,264.39 L116.63,266.33 L117.10,267.30" fill="none" stroke="#cc4258" stroke-width="1.3" stroke-linejoin="round"/>
<path d="M117.40,267.30 L117.87,266.20 L118.33,264.02 L118.80,261.17 L119.27,257.90 L119.73,254.42 L120.20,250.93 L120.67,247.62 L121.13,244.66 L121.60,242.19 L122.07,240.34 L122.53,239.19 L123.00,238.80 L123.47,239.19 L123.93,240.34 L124.40,242.19 L124.87,244.66 L125.33,247.62 L125.80,250.93 L126.27,254.42 L126.73,257.90 L127.20,261.17 L127.67,264.02 L128.13,266.20 L128.60,267.30" fill="none" stroke="#cc4258" stroke-width="1.3" stroke-linejoin="round"/>
<path d="M128.20,267.30 L128.67,266.03 L129.13,263.49 L129.60,260.18 L130.07,256.38 L130.53,252.34 L131.00,248.29 L131.47,244.45 L131.93,241.00 L132.40,238.14 L132.87,235.99 L133.33,234.65 L133.80,234.20 L134.27,234.65 L134.73,235.99 L135.20,238.14 L135.67,241.00 L136.13,244.45 L136.60,248.29 L137.07,252.34 L137.53,256.38 L138.00,260.18 L138.47,263.49 L138.93,266.03 L139.40,267.30" fill="none" stroke="#4cc05c" stroke-width="1.3" stroke-linejoin="round"/>
<path d="M138.80,267.30 L139.27,266.30 L139.73,264.31 L140.20,261.71 L140.67,258.72 L141.13,255.55 L141.60,252.37 L142.07,249.35 L142.53,246.65 L143.00,244.39 L143.47,242.70 L143.93,241.65 L144.40,241.30 L144.87,241.65 L145.33,242.70 L145.80,244.39 L146.27,246.65 L146.73,249.35 L147.20,252.37 L147.67,255.55 L148.13,258.72 L148.60,261.71 L149.07,264.31 L149.53,266.30 L150.00,267.30" fill="none" stroke="#cc4258" stroke-width="1.3" stroke-linejoin="round"/>
<path d="M150.40,267.30 L150.87,266.27 L151.33,264.21 L151.80,261.52 L152.27,258.43 L152.73,255.14 L153.20,251.85 L153.67,248.73 L154.13,245.93 L154.60,243.60 L155.07,241.85 L155.53,240.77 L156.00,240.40 L156.47,240.77 L156.93,241.85 L157.40,243.60 L157.87,245.93 L158.33,248.73 L158.80,251.85 L159.27,255.14 L159.73,258.43 L160.20,261.52 L160.67,264.21 L161.13,266.27 L161.60,267.30" fill="none" stroke="#5064c4" stroke-width="1.3" stroke-linejoin="round"/>
<path d="M161.90,267.30 L162.37,266.43 L162.83,264.69 L163.30,262.42 L163.77,259.81 L164.23,257.04 L164.70,254.26 L165.17,251.63 L165.63,249.27 L166.10,247.30 L166.57,245.82 L167.03,244.91 L167.50,244.60 L167.97,244.91 L168.43,245.82 L168.90,247.30 L169.37,249.27 L169.83,251.63 L170.30,254.26 L170.77,257.04 L171.23,259.81 L171.70,262.42 L172.17,264.69 L172.63,266.43 L173.10,267.30" fill="none" stroke="#cc4258" stroke-width="1.3" stroke-linejoin="round"/>
<path d="M172.40,267.30 L172.87,266.35 L173.33,264.47 L173.80,262.01 L174.27,259.19 L174.73,256.18 L175.20,253.17 L175.67,250.31 L176.13,247.76 L176.60,245.63 L177.07,244.03 L177.53,243.04 L178.00,242.70 L178.47,243.04 L178.93,244.03 L179.40,245.63 L179.87,247.76 L180.33,250.31 L180.80,253.17 L181.27,256.18 L181.73,259.19 L182.20,262.01 L182.67,264.47 L183.13,266.35 L183.60,267.30" fill="none" stroke="#4cc05c" stroke-width="1.3" stroke-linejoin="round"/>
<path d="M184.40,267.30 L184.87,266.67 L185.33,265.43 L185.80,263.79 L186.27,261.92 L186.73,259.93 L187.20,257.94 L187.67,256.05 L188.13,254.35 L188.60,252.94 L189.07,251.88 L189.53,251.22 L190.00,251.00 L190.47,251.22 L190.93,251.88 L191.40,252.94 L191.87,254.35 L192.33,256.05 L192.80,257.94 L193.27,259.93 L193.73,261.92 L194.20,263.79 L194.67,265.43 L195.13,266.67 L195.60,267.30" fill="none" stroke="#151515" stroke-width="1.3" stroke-linejoin="round"/>
<path d="M195.90,267.30 L196.37,266.52 L196.83,264.96 L197.30,262.93 L197.77,260.60 L198.23,258.12 L198.70,255.64 L199.17,253.28 L199.63,251.17 L200.10,249.42 L200.57,248.10 L201.03,247.28 L201.50,247.00 L201.97,247.28 L202.43,248.10 L202.90,249.42 L203.37,251.17 L203.83,253.28 L204.30,255.64 L204.77,258.12 L205.23,260.60 L205.70,262.93 L206.17,264.96 L206.63,266.52 L207.10,267.30" fill="none" stroke="#cc4258" stroke-width="1.3" stroke-linejoin="round"/>
<path d="M207.10,267.30 L207.57,265.56 L208.03,262.09 L208.50,257.56 L208.97,252.36 L209.43,246.83 L209.90,241.28 L210.37,236.02 L210.83,231.31 L211.30,227.39 L211.77,224.44 L212.23,222.62 L212.70,222.00 L213.17,222.62 L213.63,224.44 L214.10,227.39 L214.57,231.31 L215.03,236.02 L215.50,241.28 L215.97,246.83 L216.43,252.36 L216.90,257.56 L217.37,262.09 L217.83,265.56 L218.30,267.30" fill="none" stroke="#151515" stroke-width="1.3" stroke-linejoin="round"/>
<path d="M218.20,267.30 L218.67,266.48 L219.13,264.85 L219.60,262.72 L220.07,260.27 L220.53,257.67 L221.00,255.07 L221.47,252.59 L221.93,250.38 L222.40,248.53 L222.87,247.15 L223.33,246.29 L223.80,246.00 L224.27,246.29 L224.73,247.15 L225.20,248.53 L225.67,250.38 L226.13,252.59 L226.60,255.07 L227.07,257.67 L227.53,260.27 L228.00,262.72 L228.47,264.85 L228.93,266.48 L229.40,267.30" fill="none" stroke="#cc4258" stroke-width="1.3" stroke-linejoin="round"/>
<path d="M230.20,267.30 L230.67,265.54 L231.13,262.03 L231.60,257.45 L232.07,252.19 L232.53,246.60 L233.00,240.99 L233.47,235.68 L233.93,230.92 L234.40,226.95 L234.87,223.97 L235.33,222.13 L235.80,221.50 L236.27,222.13 L236.73,223.97 L237.20,226.95 L237.67,230.92 L238.13,235.68 L238.60,240.99 L239.07,246.60 L239.53,252.19 L240.00,257.45 L240.47,262.03 L240.93,265.54 L241.40,267.30" fill="none" stroke="#151515" stroke-width="1.3" stroke-linejoin="round"/>
<path d="M241.70,267.30 L242.17,266.30 L242.63,264.31 L243.10,261.71 L243.57,258.72 L244.03,255.55 L244.50,252.37 L244.97,249.35 L245.43,246.65 L245.90,244.39 L246.37,242.70 L246.83,241.65 L247.30,241.30 L247.77,241.65 L248.23,242.70 L248.70,244.39 L249.17,246.65 L249.63,249.35 L250.10,252.37 L250.57,255.55 L251.03,258.72 L251.50,261.71 L251.97,264.31 L252.43,266.30 L252.90,267.30" fill="none" stroke="#151515" stroke-width="1.3" stroke-linejoin="round"/>
<path d="M252.40,267.30 L252.87,266.56 L253.33,265.08 L253.80,263.15 L254.27,260.93 L254.73,258.58 L255.20,256.22 L255.67,253.97 L256.13,251.97 L256.60,250.30 L257.07,249.04 L257.53,248.26 L258.00,248.00 L258.47,248.26 L258.93,249.04 L259.40,250.30 L259.87,251.97 L260.33,253.97 L260.80,256.22 L261.27,258.58 L261.73,260.93 L262.20,263.15 L262.67,265.08 L263.13,266.56 L263.60,267.30" fill="none" stroke="#5064c4" stroke-width="1.3" stroke-linejoin="round"/>
<path d="M264.00,267.30 L264.47,266.19 L264.93,263.99 L265.40,261.11 L265.87,257.80 L266.33,254.28 L266.80,250.76 L267.27,247.41 L267.73,244.42 L268.20,241.93 L268.67,240.05 L269.13,238.89 L269.60,238.50 L270.07,238.89 L270.53,240.05 L271.00,241.93 L271.47,244.42 L271.93,247.41 L272.40,250.76 L272.87,254.28 L273.33,257.80 L273.80,261.11 L274.27,263.99 L274.73,266.19 L275.20,267.30" fill="none" stroke="#cc4258" stroke-width="1.3" stroke-linejoin="round"/>
<path d="M275.60,267.30 L276.07,265.67 L276.53,262.43 L277.00,258.20 L277.47,253.35 L277.93,248.18 L278.40,243.01 L278.87,238.09 L279.33,233.70 L279.80,230.03 L280.27,227.28 L280.73,225.58 L281.20,225.00 L281.67,225.58 L282.13,227.28 L282.60,230.03 L283.07,233.70 L283.53,238.09 L284.00,243.01 L284.47,248.18 L284.93,253.35 L285.40,258.20 L285.87,262.43 L286.33,265.67 L286.80,267.30" fill="none" stroke="#151515" stroke-width="1.3" stroke-linejoin="round"/>
<path d="M287.10,267.30 L287.57,265.82 L288.03,262.87 L288.50,259.02 L288.97,254.60 L289.43,249.90 L289.90,245.19 L290.37,240.72 L290.83,236.71 L291.30,233.38 L291.77,230.88 L292.23,229.33 L292.70,228.80 L293.17,229.33 L293.63,230.88 L294.10,233.38 L294.57,236.71 L295.03,240.72 L295.50,245.19 L295.97,249.90 L296.43,254.60 L296.90,259.02 L297.37,262.87 L297.83,265.82 L298.30,267.30" fill="none" stroke="#151515" stroke-width="1.3" stroke-linejoin="round"/>
<path d="M298.60,267.30 L299.07,266.62 L299.53,265.26 L300.00,263.49 L300.47,261.46 L300.93,259.30 L301.40,257.13 L301.87,255.08 L302.33,253.24 L302.80,251.71 L303.27,250.56 L303.73,249.84 L304.20,249.60 L304.67,249.84 L305.13,250.56 L305.60,251.71 L306.07,253.24 L306.53,255.08 L307.00,257.13 L307.47,259.30 L307.93,261.46 L308.40,263.49 L308.87,265.26 L309.33,266.62 L309.80,267.30" fill="none" stroke="#cc4258" stroke-width="1.3" stroke-linejoin="round"/>
<path d="M309.70,267.30 L310.17,266.03 L310.63,263.49 L311.10,260.18 L311.57,256.38 L312.03,252.34 L312.50,248.29 L312.97,244.45 L313.43,241.00 L313.90,238.14 L314.37,235.99 L314.83,234.65 L315.30,234.20 L315.77,234.65 L316.23,235.99 L316.70,238.14 L317.17,241.00 L317.63,244.45 L318.10,248.29 L318.57,252.34 L319.03,256.38 L319.50,260.18 L319.97,263.49 L320.43,266.03 L320.90,267.30" fill="none" stroke="#5064c4" stroke-width="1.3" stroke-linejoin="round"/>
<path d="M321.40,267.30 L321.87,266.33 L322.33,264.39 L322.80,261.86 L323.27,258.95 L323.73,255.87 L324.20,252.77 L324.67,249.83 L325.13,247.20 L325.60,245.01 L326.07,243.37 L326.53,242.35 L327.00,242.00 L327.47,242.35 L327.93,243.37 L328.40,245.01 L328.87,247.20 L329.33,249.83 L329.80,252.77 L330.27,255.87 L330.73,258.95 L331.20,261.86 L331.67,264.39 L332.13,266.33 L332.60,267.30" fill="none" stroke="#cc4258" stroke-width="1.3" stroke-linejoin="round"/>
<path d="M332.90,267.30 L333.37,266.23 L333.83,264.09 L334.30,261.30 L334.77,258.10 L335.23,254.69 L335.70,251.28 L336.17,248.04 L336.63,245.14 L337.10,242.72 L337.57,240.91 L338.03,239.78 L338.50,239.40 L338.97,239.78 L339.43,240.91 L339.90,242.72 L340.37,245.14 L340.83,248.04 L341.30,251.28 L341.77,254.69 L342.23,258.10 L342.70,261.30 L343.17,264.09 L343.63,266.23 L344.10,267.30" fill="none" stroke="#cc4258" stroke-width="1.3" stroke-linejoin="round"/>
<path d="M344.00,267.30 L344.47,266.12 L344.93,263.76 L345.40,260.68 L345.87,257.14 L346.33,253.38 L346.80,249.61 L347.27,246.03 L347.73,242.83 L348.20,240.16 L348.67,238.16 L349.13,236.92 L349.60,236.50 L350.07,236.92 L350.53,238.16 L351.00,240.16 L351.47,242.83 L351.93,246.03 L352.40,249.61 L352.87,253.38 L353.33,257.14 L353.80,260.68 L354.27,263.76 L354.73,266.12 L355.20,267.30" fill="none" stroke="#5064c4" stroke-width="1.3" stroke-linejoin="round"/>
<path d="M46.70,257.70 Q47.85,265.38 49.00,267.3" fill="none" stroke="#cc4258" stroke-width="1.3"/>
<text transform="translate(53.80 219.90) scale(1.75 0.72)" font-size="4.6" text-anchor="middle" fill="#98a4dc" font-weight="bold" opacity="0.8">C</text>
<text transform="translate(65.40 219.90) scale(1.75 0.72)" font-size="4.6" text-anchor="middle" fill="#e48a9a" font-weight="bold" opacity="0.8">T</text>
<text transform="translate(78.00 219.90) scale(1.75 0.72)" font-size="4.6" text-anchor="middle" fill="#555555" font-weight="bold" opacity="0.8">G</text>
<text transform="translate(89.00 219.90) scale(1.75 0.72)" font-size="4.6" text-anchor="middle" fill="#98a4dc" font-weight="bold" opacity="0.8">C</text>
<text transform="translate(100.00 219.90) scale(1.75 0.72)" font-size="4.6" text-anchor="middle" fill="#98a4dc" font-weight="bold" opacity="0.8">C</text>
<text transform="translate(111.50 219.90) scale(1.75 0.72)" font-size="4.6" text-anchor="middle" fill="#e48a9a" font-weight="bold" opacity="0.8">T</text>
<text transform="translate(123.00 219.90) scale(1.75 0.72)" font-size="4.6" text-anchor="middle" fill="#e48a9a" font-weight="bold" opacity="0.8">T</text>
<text transform="translate(133.80 219.90) scale(1.75 0.72)" font-size="4.6" text-anchor="middle" fill="#7fd08c" font-weight="bold" opacity="0.8">A</text>
<text transform="translate(144.40 219.90) scale(1.75 0.72)" font-size="4.6" text-anchor="middle" fill="#e48a9a" font-weight="bold" opacity="0.8">T</text>
<text transform="translate(156.00 219.90) scale(1.75 0.72)" font-size="4.6" text-anchor="middle" fill="#98a4dc" font-weight="bold" opacity="0.8">C</text>
<text transform="translate(167.50 219.90) scale(1.75 0.72)" font-size="4.6" text-anchor="middle" fill="#e48a9a" font-weight="bold" opacity="0.8">T</text>
<text transform="translate(178.00 219.90) scale(1.75 0.72)" font-size="4.6" text-anchor="middle" fill="#7fd08c" font-weight="bold" opacity="0.8">A</text>
<text transform="translate(190.00 219.90) scale(1.75 0.72)" font-size="4.6" text-anchor="middle" fill="#555555" font-weight="bold" opacity="0.8">G</text>
<text transform="translate(201.50 219.90) scale(1.75 0.72)" font-size="4.6" text-anchor="middle" fill="#e48a9a" font-weight="bold" opacity="0.8">T</text>
<text transform="translate(212.70 219.90) scale(1.75 0.72)" font-size="4.6" text-anchor="middle" fill="#555555" font-weight="bold" opacity="0.8">G</text>
<text transform="translate(223.80 219.90) scale(1.75 0.72)" font-size="4.6" text-anchor="middle" fill="#e48a9a" font-weight="bold" opacity="0.8">T</text>
<text transform="translate(235.80 219.90) scale(1.75 0.72)" font-size="4.6" text-anchor="middle" fill="#555555" font-weight="bold" opacity="0.8">G</text>
<text transform="translate(247.30 219.90) scale(1.75 0.72)" font-size="4.6" text-anchor="middle" fill="#555555" font-weight="bold" opacity="0.8">G</text>
<text transform="translate(258.00 219.90) scale(1.75 0.72)" font-size="4.6" text-anchor="middle" fill="#98a4dc" font-weight="bold" opacity="0.8">C</text>
<text transform="translate(269.60 219.90) scale(1.75 0.72)" font-size="4.6" text-anchor="middle" fill="#e48a9a" font-weight="bold" opacity="0.8">T</text>
<text transform="translate(281.20 219.90) scale(1.75 0.72)" font-size="4.6" text-anchor="middle" fill="#555555" font-weight="bold" opacity="0.8">G</text>
<text transform="translate(292.70 219.90) scale(1.75 0.72)" font-size="4.6" text-anchor="middle" fill="#555555" font-weight="bold" opacity="0.8">G</text>
<text transform="translate(304.20 219.90) scale(1.75 0.72)" font-size="4.6" text-anchor="middle" fill="#e48a9a" font-weight="bold" opacity="0.8">T</text>
<text transform="translate(315.30 219.90) scale(1.75 0.72)" font-size="4.6" text-anchor="middle" fill="#98a4dc" font-weight="bold" opacity="0.8">C</text>
<text transform="translate(327.00 219.90) scale(1.75 0.72)" font-size="4.6" text-anchor="middle" fill="#e48a9a" font-weight="bold" opacity="0.8">T</text>
<text transform="translate(338.50 219.90) scale(1.75 0.72)" font-size="4.6" text-anchor="middle" fill="#e48a9a" font-weight="bold" opacity="0.8">T</text>
<text transform="translate(349.60 219.90) scale(1.75 0.72)" font-size="4.6" text-anchor="middle" fill="#98a4dc" font-weight="bold" opacity="0.8">C</text>
<text transform="translate(133.00 214.80) scale(2.5 0.75)" font-size="4.2" text-anchor="middle" fill="#888" font-weight="normal">260</text>
<text transform="translate(247.70 214.80) scale(2.5 0.75)" font-size="4.2" text-anchor="middle" fill="#888" font-weight="normal">270</text>
<text transform="translate(353.50 214.80) scale(2.5 0.75)" font-size="4.2" text-anchor="middle" fill="#888" font-weight="normal">2</text>
<line x1="180.80" y1="224.10" x2="191.96" y2="239.25" stroke="#000" stroke-width="1.8"/>
<polygon points="197.30,246.50 188.66,241.69 195.26,236.82" fill="#000"/>
<text x="366.95" y="82.40" font-size="16.86" textLength="106.57" lengthAdjust="spacingAndGlyphs" stroke="#000" stroke-width="0.45">J558-untreated</text>
<text x="374.05" y="167.40" font-size="15.84" textLength="74.10" lengthAdjust="spacingAndGlyphs" stroke="#000" stroke-width="0.45">J558 RE-4</text>
<text x="365.55" y="260.40" font-size="16.13" textLength="75.44" lengthAdjust="spacingAndGlyphs" stroke="#000" stroke-width="0.45">J558 RE-8</text>
<text x="161.18" y="110.20" font-size="16.42" font-weight="bold" textLength="132.40" lengthAdjust="spacingAndGlyphs">WT: LPYLGWLVF</text>
<text x="162.44" y="203.50" font-size="15.70" font-weight="bold" textLength="136.15" lengthAdjust="spacingAndGlyphs">P8L: LPYLGWL<tspan fill="#e0202a">L</tspan>F</text>
<text x="152.74" y="288.60" font-size="15.12" font-weight="bold" textLength="135.84" lengthAdjust="spacingAndGlyphs">P5V: LPYL<tspan fill="#e0202a">V</tspan>WLVF</text>
<text x="45.95" y="40.60" font-size="22.38" font-weight="bold" textLength="16.04" lengthAdjust="spacingAndGlyphs" stroke="#000" stroke-width="0.7">A</text>
<text x="45.93" y="318.50" font-size="19.62" font-weight="bold" textLength="15.87" lengthAdjust="spacingAndGlyphs" stroke="#000" stroke-width="0.6">B</text>
<text x="44.68" y="529.50" font-size="20.76" font-weight="bold" textLength="18.00" lengthAdjust="spacingAndGlyphs" stroke="#000" stroke-width="0.6">C</text>
<text x="44.70" y="758.80" font-size="20.49" font-weight="bold" textLength="17.31" lengthAdjust="spacingAndGlyphs" stroke="#000" stroke-width="0.6">D</text>
<path d="M126.8,320.65 V459.4 H361.2" fill="none" stroke="#000" stroke-width="1.5"/>
<line x1="123.39999999999999" y1="459.40" x2="126.8" y2="459.40" stroke="#000" stroke-width="1.4"/>
<text x="114.62" y="463.58" font-size="12.15" textLength="6.76" lengthAdjust="spacingAndGlyphs" stroke="#000" stroke-width="0.45">0</text>
<line x1="123.39999999999999" y1="439.65" x2="126.8" y2="439.65" stroke="#000" stroke-width="1.4"/>
<text x="107.86" y="443.83" font-size="12.15" textLength="13.51" lengthAdjust="spacingAndGlyphs" stroke="#000" stroke-width="0.45">10</text>
<line x1="123.39999999999999" y1="419.90" x2="126.8" y2="419.90" stroke="#000" stroke-width="1.4"/>
<text x="107.86" y="424.08" font-size="12.15" textLength="13.51" lengthAdjust="spacingAndGlyphs" stroke="#000" stroke-width="0.45">20</text>
<line x1="123.39999999999999" y1="400.15" x2="126.8" y2="400.15" stroke="#000" stroke-width="1.4"/>
<text x="107.86" y="404.33" font-size="12.15" textLength="13.51" lengthAdjust="spacingAndGlyphs" stroke="#000" stroke-width="0.45">30</text>
<line x1="123.39999999999999" y1="380.40" x2="126.8" y2="380.40" stroke="#000" stroke-width="1.4"/>
<text x="107.86" y="384.58" font-size="12.15" textLength="13.51" lengthAdjust="spacingAndGlyphs" stroke="#000" stroke-width="0.45">40</text>
<line x1="123.39999999999999" y1="360.65" x2="126.8" y2="360.65" stroke="#000" stroke-width="1.4"/>
<text x="107.86" y="364.83" font-size="12.15" textLength="13.51" lengthAdjust="spacingAndGlyphs" stroke="#000" stroke-width="0.45">50</text>
<line x1="123.39999999999999" y1="340.90" x2="126.8" y2="340.90" stroke="#000" stroke-width="1.4"/>
<text x="107.86" y="345.08" font-size="12.15" textLength="13.51" lengthAdjust="spacingAndGlyphs" stroke="#000" stroke-width="0.45">60</text>
<line x1="123.39999999999999" y1="321.15" x2="126.8" y2="321.15" stroke="#000" stroke-width="1.4"/>
<text x="107.86" y="325.33" font-size="12.15" textLength="13.51" lengthAdjust="spacingAndGlyphs" stroke="#000" stroke-width="0.45">70</text>
<line x1="127.00" y1="459.4" x2="127.00" y2="462.6" stroke="#000" stroke-width="1.4"/>
<line x1="173.80" y1="459.4" x2="173.80" y2="462.6" stroke="#000" stroke-width="1.4"/>
<line x1="220.60" y1="459.4" x2="220.60" y2="462.6" stroke="#000" stroke-width="1.4"/>
<line x1="267.40" y1="459.4" x2="267.40" y2="462.6" stroke="#000" stroke-width="1.4"/>
<line x1="314.20" y1="459.4" x2="314.20" y2="462.6" stroke="#000" stroke-width="1.4"/>
<line x1="361.00" y1="459.4" x2="361.00" y2="462.6" stroke="#000" stroke-width="1.4"/>
<text x="141.60" y="480.17" font-size="12.71" textLength="17.67" lengthAdjust="spacingAndGlyphs" stroke="#000" stroke-width="0.45">3.3</text>
<text x="188.19" y="480.17" font-size="12.71" textLength="17.67" lengthAdjust="spacingAndGlyphs" stroke="#000" stroke-width="0.45">1.1</text>
<text x="231.66" y="480.17" font-size="12.71" textLength="24.74" lengthAdjust="spacingAndGlyphs" stroke="#000" stroke-width="0.45">0.33</text>
<text x="278.49" y="480.17" font-size="12.71" textLength="24.74" lengthAdjust="spacingAndGlyphs" stroke="#000" stroke-width="0.45">0.11</text>
<text x="321.73" y="480.17" font-size="12.71" textLength="31.81" lengthAdjust="spacingAndGlyphs" stroke="#000" stroke-width="0.45">0.033</text>
<text x="219.81" y="499.60" font-size="13.95" font-weight="bold" textLength="59.27" lengthAdjust="spacingAndGlyphs" stroke="#000" stroke-width="0.3">E/T ratio</text>
<text x="98.78" y="448.32" font-size="14.36" font-weight="bold" textLength="119.45" lengthAdjust="spacingAndGlyphs" transform="rotate(-90 98.78 448.32)" stroke="#000" stroke-width="0.35">Specific lysis (%)</text>
<polyline points="150.40,339.91 197.20,352.75 244.00,427.80 290.80,459.40 337.60,452.88" fill="none" stroke="#000" stroke-width="1.6"/>
<polyline points="150.40,432.74 197.20,432.74 244.00,455.45 290.80,459.40 337.60,458.21" fill="none" stroke="#000" stroke-width="1.6"/>
<polyline points="150.40,459.40 197.20,459.40 244.00,459.40 290.80,459.40 337.60,459.40" fill="none" stroke="#000" stroke-width="1.5"/>
<polygon points="150.40,455.80 153.80,459.40 150.40,463.00 147.00,459.40" fill="#000"/>
<polygon points="197.20,455.80 200.60,459.40 197.20,463.00 193.80,459.40" fill="#000"/>
<polygon points="244.00,455.80 247.40,459.40 244.00,463.00 240.60,459.40" fill="#000"/>
<polygon points="290.80,455.80 294.20,459.40 290.80,463.00 287.40,459.40" fill="#000"/>
<polygon points="337.60,455.80 341.00,459.40 337.60,463.00 334.20,459.40" fill="#000"/>
<polygon points="150.40,428.46 154.50,435.59 146.30,435.59" fill="#000"/>
<polygon points="197.20,428.46 201.30,435.59 193.10,435.59" fill="#000"/>
<polygon points="244.00,451.17 248.10,458.30 239.90,458.30" fill="#000"/>
<polygon points="290.80,455.12 294.90,462.25 286.70,462.25" fill="#000"/>
<polygon points="337.60,453.93 341.70,461.07 333.50,461.07" fill="#000"/>
<rect x="147.10" y="336.61" width="6.6" height="6.6" fill="#000"/>
<rect x="193.90" y="349.45" width="6.6" height="6.6" fill="#000"/>
<rect x="240.70" y="424.50" width="6.6" height="6.6" fill="#000"/>
<rect x="287.50" y="456.10" width="6.6" height="6.6" fill="#000"/>
<rect x="334.30" y="449.58" width="6.6" height="6.6" fill="#000"/>
<line x1="260" y1="342" x2="282" y2="342" stroke="#000" stroke-width="1.5"/>
<rect x="268.20" y="339.00" width="6.0" height="6.0" fill="#000"/>
<text x="284.90" y="347.40" font-size="12.5" textLength="27.96" lengthAdjust="spacingAndGlyphs" stroke="#000" stroke-width="0.45">J558</text>
<line x1="260" y1="357" x2="282" y2="357" stroke="#000" stroke-width="1.5"/>
<polygon points="271.20,353.03 275.00,359.64 267.40,359.64" fill="#000"/>
<text x="284.90" y="361.90" font-size="12.65" textLength="61.38" lengthAdjust="spacingAndGlyphs" stroke="#000" stroke-width="0.45">J558 RE-4</text>
<line x1="260" y1="371.3" x2="282" y2="371.3" stroke="#000" stroke-width="1.5"/>
<polygon points="271.20,368.00 275.00,371.30 271.20,374.60 267.40,371.30" fill="#000"/>
<text x="284.90" y="376.00" font-size="12.65" textLength="61.87" lengthAdjust="spacingAndGlyphs" stroke="#000" stroke-width="0.45">J558 RE-8</text>
<path d="M150.8,535.5 V665.2 H373.2" fill="none" stroke="#000" stroke-width="1.5"/>
<line x1="146.8" y1="665.00" x2="150.8" y2="665.00" stroke="#000" stroke-width="1.4"/>
<text x="126.36" y="668.70" font-size="10.31" font-weight="bold" textLength="19.62" lengthAdjust="spacingAndGlyphs">100</text>
<line x1="146.8" y1="632.75" x2="150.8" y2="632.75" stroke="#000" stroke-width="1.4"/>
<text x="119.86" y="636.45" font-size="10.31" font-weight="bold" textLength="26.12" lengthAdjust="spacingAndGlyphs">1000</text>
<line x1="146.8" y1="600.50" x2="150.8" y2="600.50" stroke="#000" stroke-width="1.4"/>
<text x="114.08" y="604.20" font-size="10.31" font-weight="bold" textLength="31.89" lengthAdjust="spacingAndGlyphs">10000</text>
<line x1="146.8" y1="568.25" x2="150.8" y2="568.25" stroke="#000" stroke-width="1.4"/>
<text x="106.76" y="571.95" font-size="10.31" font-weight="bold" textLength="39.22" lengthAdjust="spacingAndGlyphs">100000</text>
<line x1="146.8" y1="536.00" x2="150.8" y2="536.00" stroke="#000" stroke-width="1.4"/>
<text x="99.16" y="539.70" font-size="10.31" font-weight="bold" textLength="45.93" lengthAdjust="spacingAndGlyphs">1000000</text>
<line x1="150.75" y1="665.2" x2="150.75" y2="669.4" stroke="#000" stroke-width="1.4"/>
<line x1="169.27" y1="665.2" x2="169.27" y2="669.4" stroke="#000" stroke-width="1.4"/>
<line x1="187.79" y1="665.2" x2="187.79" y2="669.4" stroke="#000" stroke-width="1.4"/>
<line x1="206.31" y1="665.2" x2="206.31" y2="669.4" stroke="#000" stroke-width="1.4"/>
<line x1="224.83" y1="665.2" x2="224.83" y2="669.4" stroke="#000" stroke-width="1.4"/>
<line x1="243.35" y1="665.2" x2="243.35" y2="669.4" stroke="#000" stroke-width="1.4"/>
<line x1="261.87" y1="665.2" x2="261.87" y2="669.4" stroke="#000" stroke-width="1.4"/>
<line x1="280.39" y1="665.2" x2="280.39" y2="669.4" stroke="#000" stroke-width="1.4"/>
<line x1="298.91" y1="665.2" x2="298.91" y2="669.4" stroke="#000" stroke-width="1.4"/>
<line x1="317.43" y1="665.2" x2="317.43" y2="669.4" stroke="#000" stroke-width="1.4"/>
<line x1="335.95" y1="665.2" x2="335.95" y2="669.4" stroke="#000" stroke-width="1.4"/>
<line x1="354.47" y1="665.2" x2="354.47" y2="669.4" stroke="#000" stroke-width="1.4"/>
<line x1="372.99" y1="665.2" x2="372.99" y2="669.4" stroke="#000" stroke-width="1.4"/>
<text x="160.81" y="676.00" font-size="11" font-weight="bold" text-anchor="end" transform="rotate(-45 160.81 676.00)">1</text>
<text x="179.33" y="676.00" font-size="11" font-weight="bold" text-anchor="end" transform="rotate(-45 179.33 676.00)">0.33</text>
<text x="197.85" y="676.00" font-size="11" font-weight="bold" text-anchor="end" transform="rotate(-45 197.85 676.00)">0.11</text>
<text x="216.37" y="676.00" font-size="11" font-weight="bold" text-anchor="end" transform="rotate(-45 216.37 676.00)">0.033</text>
<text x="234.89" y="676.00" font-size="11" font-weight="bold" text-anchor="end" transform="rotate(-45 234.89 676.00)">0.011</text>
<text x="253.41" y="676.00" font-size="11" font-weight="bold" text-anchor="end" transform="rotate(-45 253.41 676.00)">0.0033</text>
<text x="271.93" y="676.00" font-size="11" font-weight="bold" text-anchor="end" transform="rotate(-45 271.93 676.00)">0.0011</text>
<text x="290.45" y="676.00" font-size="11" font-weight="bold" text-anchor="end" transform="rotate(-45 290.45 676.00)">0.00033</text>
<text x="308.97" y="676.00" font-size="11" font-weight="bold" text-anchor="end" transform="rotate(-45 308.97 676.00)">0.00011</text>
<text x="327.49" y="676.00" font-size="11" font-weight="bold" text-anchor="end" transform="rotate(-45 327.49 676.00)">0.000033</text>
<text x="346.01" y="676.00" font-size="11" font-weight="bold" text-anchor="end" transform="rotate(-45 346.01 676.00)">0.000011</text>
<text x="364.53" y="676.00" font-size="11" font-weight="bold" text-anchor="end" transform="rotate(-45 364.53 676.00)">3.3E-06</text>
<text x="168.40" y="724.60" font-size="12.21" font-weight="bold" textLength="168.40" lengthAdjust="spacingAndGlyphs">Peptide concentration (µg/ml)</text>
<text x="98.75" y="612.31" font-size="17.07" textLength="35.52" lengthAdjust="spacingAndGlyphs" transform="rotate(-90 98.75 612.31)" stroke="#000" stroke-width="0.35">CPM</text>
<polyline points="160.01,574.80 178.53,569.60 197.05,563.80 215.57,563.80 234.09,575.60 252.61,587.90 271.13,604.10 289.65,617.40 308.17,624.90 326.69,631.00 345.21,636.20 363.73,636.80" fill="none" stroke="#000" stroke-width="1.6"/>
<polyline points="160.01,631.00 178.53,630.50 197.05,634.50 215.57,634.50 234.09,631.50 252.61,631.00 271.13,636.50 289.65,636.00 308.17,636.00 326.69,639.00 345.21,636.50 363.73,636.20" fill="none" stroke="#000" stroke-width="1.2"/>
<polyline points="160.01,637.20 178.53,634.00 197.05,634.60 215.57,634.60 234.09,635.00 252.61,635.00 271.13,635.00 289.65,636.00 308.17,636.00 326.69,636.00 345.21,636.50 363.73,636.50" fill="none" stroke="#000" stroke-width="1.2"/>
<ellipse cx="160.01" cy="637.20" rx="3.4" ry="4.1" fill="#000"/>
<ellipse cx="178.53" cy="634.00" rx="3.4" ry="4.1" fill="#000"/>
<ellipse cx="197.05" cy="634.60" rx="3.4" ry="4.1" fill="#000"/>
<ellipse cx="215.57" cy="634.60" rx="3.4" ry="4.1" fill="#000"/>
<ellipse cx="234.09" cy="635.00" rx="3.4" ry="4.1" fill="#000"/>
<ellipse cx="252.61" cy="635.00" rx="3.4" ry="4.1" fill="#000"/>
<ellipse cx="271.13" cy="635.00" rx="3.4" ry="4.1" fill="#000"/>
<ellipse cx="289.65" cy="636.00" rx="3.4" ry="4.1" fill="#000"/>
<ellipse cx="308.17" cy="636.00" rx="3.4" ry="4.1" fill="#000"/>
<ellipse cx="326.69" cy="636.00" rx="3.4" ry="4.1" fill="#000"/>
<ellipse cx="345.21" cy="636.50" rx="3.4" ry="4.1" fill="#000"/>
<ellipse cx="363.73" cy="636.50" rx="3.4" ry="4.1" fill="#000"/>
<polygon points="160.01,626.20 163.51,631.00 160.01,635.80 156.51,631.00" fill="#000"/>
<polygon points="178.53,625.70 182.03,630.50 178.53,635.30 175.03,630.50" fill="#000"/>
<polygon points="197.05,629.70 200.55,634.50 197.05,639.30 193.55,634.50" fill="#000"/>
<polygon points="215.57,629.70 219.07,634.50 215.57,639.30 212.07,634.50" fill="#000"/>
<polygon points="234.09,626.70 237.59,631.50 234.09,636.30 230.59,631.50" fill="#000"/>
<polygon points="252.61,626.20 256.11,631.00 252.61,635.80 249.11,631.00" fill="#000"/>
<polygon points="271.13,631.70 274.63,636.50 271.13,641.30 267.63,636.50" fill="#000"/>
<polygon points="289.65,631.20 293.15,636.00 289.65,640.80 286.15,636.00" fill="#000"/>
<polygon points="308.17,631.20 311.67,636.00 308.17,640.80 304.67,636.00" fill="#000"/>
<polygon points="326.69,634.20 330.19,639.00 326.69,643.80 323.19,639.00" fill="#000"/>
<polygon points="345.21,631.70 348.71,636.50 345.21,641.30 341.71,636.50" fill="#000"/>
<polygon points="363.73,631.40 367.23,636.20 363.73,641.00 360.23,636.20" fill="#000"/>
<rect x="156.51" y="571.30" width="7.0" height="7.0" fill="#000"/>
<rect x="175.03" y="566.10" width="7.0" height="7.0" fill="#000"/>
<rect x="193.55" y="560.30" width="7.0" height="7.0" fill="#000"/>
<rect x="212.07" y="560.30" width="7.0" height="7.0" fill="#000"/>
<rect x="230.59" y="572.10" width="7.0" height="7.0" fill="#000"/>
<rect x="249.11" y="584.40" width="7.0" height="7.0" fill="#000"/>
<rect x="267.63" y="600.60" width="7.0" height="7.0" fill="#000"/>
<rect x="286.15" y="613.90" width="7.0" height="7.0" fill="#000"/>
<rect x="304.67" y="621.40" width="7.0" height="7.0" fill="#000"/>
<rect x="323.19" y="627.50" width="7.0" height="7.0" fill="#000"/>
<rect x="341.71" y="632.70" width="7.0" height="7.0" fill="#000"/>
<rect x="360.23" y="633.30" width="7.0" height="7.0" fill="#000"/>
<line x1="328" y1="541.9" x2="347.7" y2="541.9" stroke="#000" stroke-width="1.4"/>
<rect x="334.3" y="538.5" width="6" height="6.8" fill="#000"/>
<text x="349.49" y="545.80" font-size="10.17" font-weight="bold" textLength="16.02" lengthAdjust="spacingAndGlyphs">WT</text>
<line x1="328" y1="565.8" x2="347.7" y2="565.8" stroke="#000" stroke-width="1.4"/>
<polygon points="337.60,561.90 340.70,565.80 337.60,569.70 334.50,565.80" fill="#000"/>
<text x="348.75" y="569.60" font-size="10.03" font-weight="bold" textLength="21.33" lengthAdjust="spacingAndGlyphs">P5V</text>
<line x1="328" y1="585.3" x2="347.7" y2="585.3" stroke="#000" stroke-width="1.4"/>
<ellipse cx="337.60" cy="585.30" rx="3.0" ry="4.2" fill="#000"/>
<text x="348.79" y="588.80" font-size="10.03" font-weight="bold" textLength="19.54" lengthAdjust="spacingAndGlyphs">P8L</text>
<path d="M135.4,754.66 V877.2 H366" fill="none" stroke="#000" stroke-width="1.5"/>
<line x1="131.4" y1="876.90" x2="135.4" y2="876.90" stroke="#000" stroke-width="1.4"/>
<text x="121.78" y="880.79" font-size="11.44" textLength="6.36" lengthAdjust="spacingAndGlyphs" stroke="#000" stroke-width="0.6">0</text>
<line x1="131.4" y1="856.61" x2="135.4" y2="856.61" stroke="#000" stroke-width="1.4"/>
<text x="115.42" y="860.50" font-size="11.44" textLength="12.73" lengthAdjust="spacingAndGlyphs" stroke="#000" stroke-width="0.6">20</text>
<line x1="131.4" y1="836.32" x2="135.4" y2="836.32" stroke="#000" stroke-width="1.4"/>
<text x="115.42" y="840.21" font-size="11.44" textLength="12.73" lengthAdjust="spacingAndGlyphs" stroke="#000" stroke-width="0.6">40</text>
<line x1="131.4" y1="816.03" x2="135.4" y2="816.03" stroke="#000" stroke-width="1.4"/>
<text x="115.42" y="819.92" font-size="11.44" textLength="12.73" lengthAdjust="spacingAndGlyphs" stroke="#000" stroke-width="0.6">60</text>
<line x1="131.4" y1="795.74" x2="135.4" y2="795.74" stroke="#000" stroke-width="1.4"/>
<text x="115.42" y="799.63" font-size="11.44" textLength="12.73" lengthAdjust="spacingAndGlyphs" stroke="#000" stroke-width="0.6">80</text>
<line x1="131.4" y1="775.45" x2="135.4" y2="775.45" stroke="#000" stroke-width="1.4"/>
<text x="109.06" y="779.34" font-size="11.44" textLength="19.09" lengthAdjust="spacingAndGlyphs" stroke="#000" stroke-width="0.6">100</text>
<line x1="131.4" y1="755.16" x2="135.4" y2="755.16" stroke="#000" stroke-width="1.4"/>
<text x="109.06" y="759.05" font-size="11.44" textLength="19.09" lengthAdjust="spacingAndGlyphs" stroke="#000" stroke-width="0.6">120</text>
<line x1="135.40" y1="877.2" x2="135.40" y2="882" stroke="#000" stroke-width="1.4"/>
<line x1="173.85" y1="877.2" x2="173.85" y2="882" stroke="#000" stroke-width="1.4"/>
<line x1="212.30" y1="877.2" x2="212.30" y2="882" stroke="#000" stroke-width="1.4"/>
<line x1="250.75" y1="877.2" x2="250.75" y2="882" stroke="#000" stroke-width="1.4"/>
<line x1="289.20" y1="877.2" x2="289.20" y2="882" stroke="#000" stroke-width="1.4"/>
<line x1="327.65" y1="877.2" x2="327.65" y2="882" stroke="#000" stroke-width="1.4"/>
<line x1="366.10" y1="877.2" x2="366.10" y2="882" stroke="#000" stroke-width="1.4"/>
<text x="148.70" y="894.60" font-size="10.45" font-weight="bold" textLength="11.63" lengthAdjust="spacingAndGlyphs">10</text>
<text x="189.98" y="894.60" font-size="10.45" font-weight="bold" textLength="5.81" lengthAdjust="spacingAndGlyphs">1</text>
<text x="224.20" y="894.60" font-size="10.45" font-weight="bold" textLength="14.53" lengthAdjust="spacingAndGlyphs">0.1</text>
<text x="259.74" y="894.60" font-size="10.45" font-weight="bold" textLength="20.34" lengthAdjust="spacingAndGlyphs">0.01</text>
<text x="295.29" y="894.60" font-size="10.45" font-weight="bold" textLength="26.16" lengthAdjust="spacingAndGlyphs">0.001</text>
<text x="332.63" y="894.60" font-size="10.45" font-weight="bold" textLength="27.89" lengthAdjust="spacingAndGlyphs">1E-04</text>
<text x="170.42" y="911.90" font-size="11.63" font-weight="bold" textLength="164.97" lengthAdjust="spacingAndGlyphs">Peptide concentration (µg/ml)</text>
<text x="96.74" y="863.64" font-size="12.66" font-weight="bold" textLength="95.42" lengthAdjust="spacingAndGlyphs" transform="rotate(-90 96.74 863.64)" stroke="#000" stroke-width="0.3">Specific lysis (%)</text>
<polygon points="269.975,874.16085 346.875,875.6826 346.875,876.9 269.975,876.9" fill="#9a9a9a"/>
<polyline points="154.62,799.29 193.08,794.73 231.53,789.65 269.98,803.86 308.43,809.94 346.88,820.09" fill="none" stroke="#000" stroke-width="1.7"/>
<polyline points="154.62,804.87 193.08,807.91 231.53,799.80 269.98,827.19 308.43,859.65 346.88,871.83" fill="none" stroke="#000" stroke-width="1.7"/>
<polyline points="154.62,872.84 193.08,869.80 231.53,870.81 269.98,874.16 308.43,874.16 346.88,875.68" fill="none" stroke="#000" stroke-width="1.6"/>
<ellipse cx="154.62" cy="872.84" rx="4.0" ry="4.0" fill="#000"/>
<ellipse cx="193.08" cy="869.80" rx="4.0" ry="4.0" fill="#000"/>
<ellipse cx="231.53" cy="870.81" rx="4.0" ry="4.0" fill="#000"/>
<ellipse cx="269.98" cy="874.16" rx="4.0" ry="4.0" fill="#000"/>
<ellipse cx="308.43" cy="874.16" rx="4.0" ry="4.0" fill="#000"/>
<ellipse cx="346.88" cy="875.68" rx="4.0" ry="4.0" fill="#000"/>
<polygon points="154.62,800.17 158.82,804.87 154.62,809.57 150.43,804.87" fill="#000"/>
<polygon points="193.08,803.21 197.28,807.91 193.08,812.61 188.88,807.91" fill="#000"/>
<polygon points="231.53,795.10 235.72,799.80 231.53,804.50 227.33,799.80" fill="#000"/>
<polygon points="269.98,822.49 274.18,827.19 269.98,831.89 265.78,827.19" fill="#000"/>
<polygon points="308.43,854.95 312.62,859.65 308.43,864.35 304.23,859.65" fill="#000"/>
<polygon points="346.88,867.13 351.07,871.83 346.88,876.53 342.68,871.83" fill="#000"/>
<rect x="150.53" y="795.19" width="8.2" height="8.2" fill="#000"/>
<rect x="188.98" y="790.63" width="8.2" height="8.2" fill="#000"/>
<rect x="227.43" y="785.55" width="8.2" height="8.2" fill="#000"/>
<rect x="265.88" y="799.76" width="8.2" height="8.2" fill="#000"/>
<rect x="304.32" y="805.84" width="8.2" height="8.2" fill="#000"/>
<rect x="342.77" y="815.99" width="8.2" height="8.2" fill="#000"/>
<line x1="381.9" y1="770" x2="410.8" y2="770" stroke="#000" stroke-width="1.5"/>
<rect x="392.10" y="765.70" width="8.6" height="8.6" fill="#000"/>
<text x="413.74" y="773.80" font-size="12.06" textLength="19.49" lengthAdjust="spacingAndGlyphs" stroke="#000" stroke-width="0.6">Pwt</text>
<line x1="381.9" y1="794.4" x2="410.8" y2="794.4" stroke="#000" stroke-width="1.5"/>
<polygon points="396.40,789.30 401.10,794.40 396.40,799.50 391.70,794.40" fill="#000"/>
<text x="413.73" y="797.70" font-size="12.79" textLength="22.43" lengthAdjust="spacingAndGlyphs" stroke="#000" stroke-width="0.6">P5V</text>
<line x1="381.9" y1="817.5" x2="410.8" y2="817.5" stroke="#000" stroke-width="1.5"/>
<ellipse cx="396.40" cy="817.50" rx="4.0" ry="4.5" fill="#000"/>
<text x="413.73" y="821.20" font-size="11.63" textLength="20.96" lengthAdjust="spacingAndGlyphs" stroke="#000" stroke-width="0.6">P8L</text>
</svg>
</body></html>
